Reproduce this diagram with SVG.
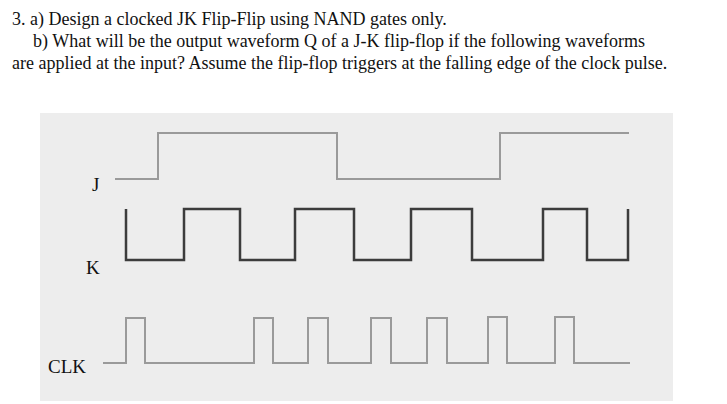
<svg xmlns="http://www.w3.org/2000/svg" width="727" height="404" viewBox="0 0 727 404">
<style>
text{font-family:"Liberation Serif",serif;fill:#111}
.h{font-size:18px}
.l{font-size:19px}
.w{fill:none;stroke-linejoin:miter}
</style>
<rect width="727" height="404" fill="#fff"/>
<text class="h" x="12" y="25">3. a) Design a clocked JK Flip-Flip using NAND gates only.</text>
<text class="h" x="33" y="47">b) What will be the output waveform Q of a J-K flip-flop if the following waveforms</text>
<text class="h" x="12" y="69">are applied at the input? Assume the flip-flop triggers at the falling edge of the clock pulse.</text>
<rect x="40" y="113" width="633" height="288" fill="#ededed"/>
<g id="labels">
<text class="l" x="92" y="191">J</text>
<text class="l" x="86" y="274">K</text>
<text class="l" x="48" y="373">CLK</text>
</g>
<g id="connectors">
<path id="J" class="w" stroke="#9a9a9a" stroke-width="2" d="M115 179H158V133H337V179H500V133H629"/>
<path id="K" class="w" stroke="#3c3c3c" stroke-width="2.5" d="M126 209V260H184V209H240V260H295V209H354V260H411V209H472V260H543V209H587V260H628V209"/>
<path id="CLK" class="w" stroke="#9a9a9a" stroke-width="2" d="M103 363H126V318H145V363H254V318H273V363H308V318H328V363H371V318H391V363H427V318H447V363H488V317H507V363H555V317H574V363H630"/>
</g>
</svg>
